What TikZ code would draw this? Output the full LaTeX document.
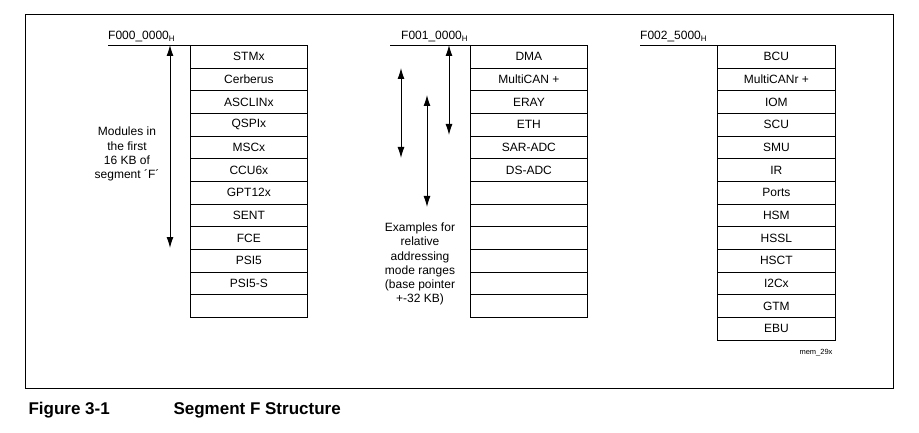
\documentclass[tikz,border=0pt]{standalone}
\usepackage{fontspec}
\setmainfont{Liberation Sans}
\usetikzlibrary{arrows.meta}
\begin{document}
\begin{tikzpicture}[x=1pt,y=-1pt,
  cell/.style={draw,line width=0.8pt,minimum width=117pt,minimum height=22.7pt,inner sep=0pt,font=\fontsize{12}{14}\selectfont,anchor=north west},
  arr/.style={line width=1pt,{Latex[length=11pt,width=7pt]}-{Latex[length=11pt,width=7pt]}},
  lbl/.style={font=\fontsize{12}{14}\selectfont,inner sep=0pt},
  txt/.style={font=\fontsize{12}{14.2}\selectfont,align=center,inner sep=0pt}]
\useasboundingbox (0,0) rectangle (919,433);
\draw[line width=0.6pt] (25,14) rectangle (893,388);
% column 1
\foreach \t [count=\i from 0] in {STMx,Cerberus,ASCLINx,QSPIx,MSCx,CCU6x,GPT12x,SENT,FCE,PSI5,PSI5-S,{}}
  \node[cell] (a\i) at (190,45+22.67*\i) {\t};
\coordinate (la) at (108,45);
\draw[line width=0.8pt] (la) -- (a0.north west);
\node[lbl,anchor=south west] (ha) at (108,42) {F000\_0000\textsubscript{H}};
\coordinate (a1s) at (170,45); \coordinate (a1e) at (170,248);
\draw[arr] (a1s) -- (a1e);
\node[txt] (ma) at (127,154) {Modules in\\the first\\16 KB of\\segment ´F´};
% column 2
\foreach \t [count=\i from 0] in {DMA,MultiCAN +,ERAY,ETH,SAR-ADC,DS-ADC,{},{},{},{},{},{}}
  \node[cell] (b\i) at (470,45+22.67*\i) {\t};
\coordinate (lb) at (390,45);
\draw[line width=0.8pt] (lb) -- (b0.north west);
\node[lbl,anchor=south west] (hb) at (401,42) {F001\_0000\textsubscript{H}};
\coordinate (b1s) at (449,45); \coordinate (b1e) at (449,135);
\coordinate (b2s) at (401,68); \coordinate (b2e) at (401,158);
\coordinate (b3s) at (427,95); \coordinate (b3e) at (427,207);
\draw[arr] (b1s) -- (b1e);
\draw[arr] (b2s) -- (b2e);
\draw[arr] (b3s) -- (b3e);
\node[txt] (mb) at (420,264) {Examples for\\relative\\addressing\\mode ranges\\(base pointer\\+-32 KB)};
% column 3
\foreach \t [count=\i from 0] in {BCU,MultiCANr +,IOM,SCU,SMU,IR,Ports,HSM,HSSL,HSCT,I2Cx,GTM,EBU}
  \node[cell,minimum width=118pt] (c\i) at (717,45+22.67*\i) {\t};
\coordinate (lc) at (640,45);
\draw[line width=0.8pt] (lc) -- (c0.north west);
\node[lbl,anchor=south west] (hc) at (640,42) {F002\_5000\textsubscript{H}};
\node[font=\fontsize{7.5}{9}\selectfont,anchor=east] (mem) at (836,353) {mem\_29x};
% caption
\node[font=\bfseries\fontsize{17}{19}\selectfont,anchor=west] (cap1) at (25,410) {Figure 3-1};
\node[font=\bfseries\fontsize{17}{19}\selectfont,anchor=west] (cap2) at (170,410) {Segment F Structure};
\end{tikzpicture}
\end{document}
